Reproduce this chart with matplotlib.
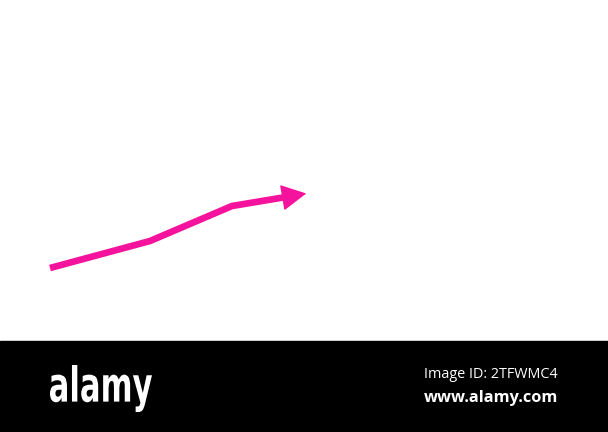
import matplotlib
matplotlib.use("Agg")
import matplotlib.pyplot as plt
from matplotlib.font_manager import FontProperties
from matplotlib.patches import PathPatch
from matplotlib.textpath import TextPath
from matplotlib.transforms import Affine2D

# polyline of the magenta trend arrow (pixel coordinates of the image)
trend_x = [50, 150, 232, 292]
trend_y = [268, 241, 206, 196]
tip = (309, 193)

brand = "alamy"
image_id = "Image ID: 2TFWMC4"
site = "www.alamy.com"

W, H = 608, 432
fig = plt.figure(figsize=(W / 100, H / 100), dpi=100)
fig.patch.set_facecolor("white")
ax = fig.add_axes([0, 0, 1, 1])
ax.set_xlim(0, W)
ax.set_ylim(H, 0)
ax.axis("off")

pink = "#f5129c"
ax.plot(trend_x, trend_y, color=pink, lw=4.8, solid_capstyle="butt", solid_joinstyle="round")
ax.annotate("", xy=tip, xytext=(trend_x[-1] - 2, trend_y[-1] + 0.3),
            arrowprops=dict(arrowstyle="-|>,head_length=0.8,head_width=0.42",
                            color=pink, lw=1, mutation_scale=20))

# black footer band
ax.add_patch(plt.Rectangle((0, 341), W, H - 341, color="black", zorder=5))

# condensed bold logo: squeeze a bold glyph path into the logo box
tp = TextPath((0, 0), brand, size=10, prop=FontProperties(family="DejaVu Sans", weight="bold"))
ext = tp.get_extents()
x0, x1, top, bot = 50, 152, 365, 412
sx = (x1 - x0) / ext.width
sy = (bot - top) / ext.height
tr = Affine2D().translate(-ext.x0, -ext.y1).scale(sx, -sy).translate(x0, top)
ax.add_patch(PathPatch(tr.transform_path(tp), color="white", lw=0, zorder=6))

ax.text(558, 375, image_id, color="white", fontsize=10.4, family=["Open Sans", "DejaVu Sans"],
        ha="right", va="center", zorder=6)
ax.text(558, 398, site, color="white", fontsize=11.8, fontweight="bold",
        family=["Open Sans", "DejaVu Sans"], ha="right", va="center", zorder=6)

fig.savefig("out.png", dpi=100, facecolor="white")
